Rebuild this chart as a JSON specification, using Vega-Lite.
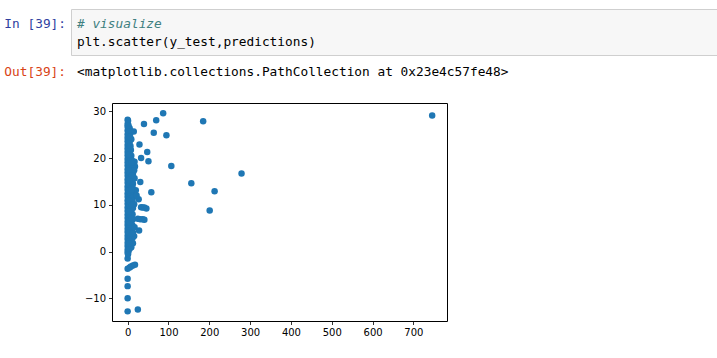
{
  "$schema": "https://vega.github.io/schema/vega-lite/v6.json",
  "padding": {"left": 0, "top": 8, "right": 0, "bottom": 0},
  "background": "white",
  "config": {"view": {"stroke": null}},
  "spacing": 0,
  "bounds": "full",
  "vconcat": [
    {
      "spacing": 0,
      "bounds": "flush",
      "hconcat": [
        {
          "width": 71,
          "height": 46,
          "data": {"values": [{"line": 1, "text": "In [39]:"}]},
          "mark": {"type": "text", "align": "right", "baseline": "middle", "dx": -5, "font": "DejaVu Sans Mono", "fontSize": 12.8, "color": "#303F9F"},
          "encoding": {
            "x": {"datum": 1, "type": "quantitative", "scale": {"domain": [0, 1]}, "axis": null},
            "y": {"field": "line", "type": "quantitative", "scale": {"domain": [0.189, 2.676], "reverse": true}, "axis": null},
            "text": {"field": "text"}
          }
        },
        {
          "width": 646,
          "height": 46,
          "view": {"fill": "#f7f7f7", "stroke": "#cfcfcf", "strokeWidth": 1},
          "data": {"values": [
            {"line": 1, "text": "# visualize", "kind": "comment"},
            {"line": 2, "text": "plt.scatter(y_test,predictions)", "kind": "code"}
          ]},
          "layer": [
            {
              "transform": [{"filter": "datum.kind === 'comment'"}],
              "mark": {"type": "text", "align": "left", "baseline": "middle", "dx": 6, "font": "DejaVu Sans Mono", "fontSize": 12.8, "fontStyle": "italic", "color": "#408080"},
              "encoding": {
                "x": {"datum": 0, "type": "quantitative", "scale": {"domain": [0, 1]}, "axis": null},
                "y": {"field": "line", "type": "quantitative", "scale": {"domain": [0.189, 2.676], "reverse": true}, "axis": null},
                "text": {"field": "text"}
              }
            },
            {
              "transform": [{"filter": "datum.kind === 'code'"}],
              "mark": {"type": "text", "align": "left", "baseline": "middle", "dx": 6, "font": "DejaVu Sans Mono", "fontSize": 12.8, "color": "#000000"},
              "encoding": {
                "x": {"datum": 0, "type": "quantitative", "scale": {"domain": [0, 1]}, "axis": null},
                "y": {"field": "line", "type": "quantitative", "scale": {"domain": [0.189, 2.676], "reverse": true}, "axis": null},
                "text": {"field": "text"}
              }
            }
          ]
        }
      ]
    },
    {
      "spacing": 0,
      "bounds": "flush",
      "hconcat": [
        {
          "width": 71,
          "height": 46,
          "data": {"values": [{"line": 1, "text": "Out[39]:"}]},
          "mark": {"type": "text", "align": "right", "baseline": "middle", "dx": -5, "font": "DejaVu Sans Mono", "fontSize": 12.8, "color": "#D84315"},
          "encoding": {
            "x": {"datum": 1, "type": "quantitative", "scale": {"domain": [0, 1]}, "axis": null},
            "y": {"field": "line", "type": "quantitative", "scale": {"domain": [0.108, 2.595], "reverse": true}, "axis": null},
            "text": {"field": "text"}
          }
        },
        {
          "width": 646,
          "height": 46,
          "data": {"values": [{"line": 1, "text": "<matplotlib.collections.PathCollection at 0x23e4c57fe48>"}]},
          "mark": {"type": "text", "align": "left", "baseline": "middle", "dx": 6, "font": "DejaVu Sans Mono", "fontSize": 12.8, "color": "#000000"},
          "encoding": {
            "x": {"datum": 0, "type": "quantitative", "scale": {"domain": [0, 1]}, "axis": null},
            "y": {"field": "line", "type": "quantitative", "scale": {"domain": [0.108, 2.595], "reverse": true}, "axis": null},
            "text": {"field": "text"}
          }
        }
      ]
    },
    {
      "spacing": 0,
      "bounds": "flush",
      "hconcat": [
        {
          "width": 112,
          "height": 218,
          "data": {"values": [{"text": ""}]},
          "mark": {"type": "text"},
          "encoding": {"text": {"field": "text"}}
        },
        {
          "width": 335,
          "height": 218,
          "view": {"stroke": "#000000", "strokeWidth": 1},
          "data": {"values": [
            {"x": 87, "y": 29.6}, {"x": 185, "y": 27.9}, {"x": 70, "y": 28.1}, {"x": 40, "y": 27.3}, {"x": 64, "y": 25.4},
            {"x": 95, "y": 24.9}, {"x": 15, "y": 25.7}, {"x": 29, "y": 22.9}, {"x": 48, "y": 21.3}, {"x": 33, "y": 20.0},
            {"x": 51, "y": 19.3}, {"x": 107, "y": 18.3}, {"x": 279, "y": 16.7}, {"x": 156, "y": 14.6}, {"x": 213, "y": 12.9},
            {"x": 201, "y": 8.8}, {"x": 58, "y": 12.7}, {"x": 31, "y": 14.9}, {"x": 27, "y": 11.2}, {"x": 15, "y": 12.4},
            {"x": 33, "y": 9.5}, {"x": 37, "y": 9.4}, {"x": 41, "y": 9.4}, {"x": 46, "y": 9.2},
            {"x": 25, "y": 7.0}, {"x": 31, "y": 6.9}, {"x": 37, "y": 6.9}, {"x": 41, "y": 6.8},
            {"x": 28, "y": 4.5}, {"x": 13, "y": -3.0}, {"x": 8, "y": -3.2}, {"x": 25, "y": -12.4},
            {"x": 746, "y": 29.1}, {"x": 13, "y": 16.7},
            {"x": 0, "y": 28.2}, {"x": 0, "y": 27.3}, {"x": 0, "y": 26.7}, {"x": 0, "y": 25.9}, {"x": 0, "y": 25.1},
            {"x": 0, "y": 24.3}, {"x": 0, "y": 23.6}, {"x": 0, "y": 22.8}, {"x": 0, "y": 22.1}, {"x": 0, "y": 21.3},
            {"x": 0, "y": 20.6}, {"x": 0, "y": 19.8}, {"x": 0, "y": 19.1}, {"x": 0, "y": 18.4}, {"x": 0, "y": 17.6},
            {"x": 0, "y": 16.9}, {"x": 0, "y": 16.2}, {"x": 0, "y": 15.4}, {"x": 0, "y": 14.7}, {"x": 0, "y": 13.9},
            {"x": 0, "y": 13.2}, {"x": 0, "y": 12.4}, {"x": 0, "y": 11.7}, {"x": 0, "y": 10.9}, {"x": 0, "y": 10.2},
            {"x": 0, "y": 9.4}, {"x": 0, "y": 8.7}, {"x": 0, "y": 7.9}, {"x": 0, "y": 7.2}, {"x": 0, "y": 6.4},
            {"x": 0, "y": 5.7}, {"x": 0, "y": 4.9}, {"x": 0, "y": 4.2}, {"x": 0, "y": 3.4}, {"x": 0, "y": 2.7},
            {"x": 0, "y": 1.9}, {"x": 0, "y": 1.2}, {"x": 0, "y": 0.4}, {"x": 0, "y": -0.2}, {"x": 0, "y": -1.5},
            {"x": 0, "y": -3.7}, {"x": 0, "y": -5.8}, {"x": 0, "y": -7.4}, {"x": 0, "y": -10.0}, {"x": 0, "y": -12.8},
            {"x": 2, "y": 27.0}, {"x": 2, "y": 26.2}, {"x": 2, "y": 24.7}, {"x": 2, "y": 23.9}, {"x": 2, "y": 22.4},
            {"x": 2, "y": 21.0}, {"x": 2, "y": 20.3}, {"x": 2, "y": 19.5}, {"x": 2, "y": 18.8}, {"x": 2, "y": 18.0},
            {"x": 2, "y": 17.2}, {"x": 2, "y": 16.5}, {"x": 2, "y": 15.8}, {"x": 2, "y": 15.0}, {"x": 2, "y": 14.3},
            {"x": 2, "y": 13.5}, {"x": 2, "y": 12.8}, {"x": 2, "y": 12.0}, {"x": 2, "y": 11.3}, {"x": 2, "y": 10.5},
            {"x": 2, "y": 9.8}, {"x": 2, "y": 9.0}, {"x": 2, "y": 8.3}, {"x": 2, "y": 7.5}, {"x": 2, "y": 6.8},
            {"x": 2, "y": 6.0}, {"x": 2, "y": 5.3}, {"x": 2, "y": 4.5}, {"x": 2, "y": 3.8}, {"x": 2, "y": 3.0},
            {"x": 2, "y": 2.3}, {"x": 2, "y": 1.5}, {"x": 2, "y": 0.8}, {"x": 2, "y": 0.0},
            {"x": 5, "y": 26.4}, {"x": 5, "y": 25.3}, {"x": 5, "y": 23.5}, {"x": 5, "y": 22.0}, {"x": 5, "y": 20.9},
            {"x": 5, "y": 20.0}, {"x": 5, "y": 19.3}, {"x": 5, "y": 18.6}, {"x": 5, "y": 17.9}, {"x": 5, "y": 17.0},
            {"x": 5, "y": 16.3}, {"x": 5, "y": 15.6}, {"x": 5, "y": 14.8}, {"x": 5, "y": 14.1}, {"x": 5, "y": 13.3},
            {"x": 5, "y": 12.6}, {"x": 5, "y": 11.8}, {"x": 5, "y": 11.1}, {"x": 5, "y": 10.3}, {"x": 5, "y": 9.6},
            {"x": 5, "y": 8.8}, {"x": 5, "y": 8.1}, {"x": 5, "y": 7.3}, {"x": 5, "y": 6.6}, {"x": 5, "y": 5.8},
            {"x": 5, "y": 5.1}, {"x": 5, "y": 4.3}, {"x": 5, "y": 3.6}, {"x": 5, "y": 2.8}, {"x": 5, "y": 2.1},
            {"x": 5, "y": 1.3}, {"x": 5, "y": 0.6}, {"x": 5, "y": -3.4},
            {"x": 8, "y": 25.6}, {"x": 9, "y": 24.0}, {"x": 8, "y": 21.7}, {"x": 9, "y": 20.5}, {"x": 8, "y": 19.6},
            {"x": 9, "y": 18.8}, {"x": 8, "y": 18.1}, {"x": 9, "y": 17.3}, {"x": 8, "y": 16.6}, {"x": 9, "y": 15.9},
            {"x": 8, "y": 15.1}, {"x": 9, "y": 14.4}, {"x": 8, "y": 13.6}, {"x": 9, "y": 12.9}, {"x": 8, "y": 12.1},
            {"x": 9, "y": 11.4}, {"x": 8, "y": 10.6}, {"x": 9, "y": 9.9}, {"x": 8, "y": 9.1}, {"x": 9, "y": 8.4},
            {"x": 8, "y": 7.6}, {"x": 9, "y": 6.2}, {"x": 8, "y": 5.5}, {"x": 9, "y": 4.7}, {"x": 8, "y": 3.2},
            {"x": 9, "y": 2.5}, {"x": 8, "y": 1.7}, {"x": 9, "y": 0.9},
            {"x": 12, "y": 19.4}, {"x": 13, "y": 18.5}, {"x": 12, "y": 17.7}, {"x": 13, "y": 16.0}, {"x": 12, "y": 15.3},
            {"x": 13, "y": 14.5}, {"x": 12, "y": 13.7}, {"x": 13, "y": 11.6}, {"x": 12, "y": 10.8}, {"x": 13, "y": 9.3},
            {"x": 12, "y": 8.0}, {"x": 13, "y": 6.9}, {"x": 12, "y": 5.6}, {"x": 13, "y": 4.1}, {"x": 12, "y": 2.9},
            {"x": 13, "y": 1.8},
            {"x": 17, "y": 19.2}, {"x": 18, "y": 18.2}, {"x": 16, "y": 17.4}, {"x": 17, "y": 15.7}, {"x": 20, "y": 13.1},
            {"x": 22, "y": 12.0}, {"x": 16, "y": 10.1}, {"x": 17, "y": 5.2}, {"x": 16, "y": 3.3}, {"x": 18, "y": -2.8},
            {"x": 1, "y": 28.0}, {"x": 1, "y": 26.9}, {"x": 3, "y": 25.6}, {"x": 1, "y": 24.6}, {"x": 3, "y": 23.2},
            {"x": 1, "y": 21.8}, {"x": 3, "y": 20.7}, {"x": 4, "y": 19.0}, {"x": 3, "y": 17.4}, {"x": 4, "y": 15.3},
            {"x": 3, "y": 13.0}, {"x": 4, "y": 10.8}, {"x": 3, "y": 8.5}, {"x": 4, "y": 6.3}, {"x": 3, "y": 4.0},
            {"x": 4, "y": 1.7}, {"x": 1, "y": -0.6}, {"x": 10, "y": 19.0}, {"x": 11, "y": 16.3}, {"x": 10, "y": 13.2},
            {"x": 11, "y": 10.0}, {"x": 10, "y": 7.0}, {"x": 11, "y": 3.8}, {"x": 7, "y": 22.6}, {"x": 6, "y": 24.5}
          ]},
          "mark": {"type": "circle", "size": 42, "color": "#1f77b4", "opacity": 1},
          "encoding": {
            "x": {
              "field": "x", "type": "quantitative",
              "scale": {"domain": [-38.3, 782.3], "nice": false, "zero": false},
              "axis": {"values": [0, 100, 200, 300, 400, 500, 600, 700], "title": null, "domain": false, "grid": false, "tickSize": 3.5, "tickColor": "#000000", "tickWidth": 0.8, "labelFont": "DejaVu Sans", "labelFontSize": 10, "labelColor": "#000000", "labelPadding": 3, "labelFlush": false, "labelOverlap": false}
            },
            "y": {
              "field": "y", "type": "quantitative",
              "scale": {"domain": [-14.86, 31.78], "nice": false, "zero": false},
              "axis": {"values": [-10, 0, 10, 20, 30], "title": null, "domain": false, "grid": false, "tickSize": 3.5, "tickColor": "#000000", "tickWidth": 0.8, "labelFont": "DejaVu Sans", "labelFontSize": 10, "labelColor": "#000000", "labelPadding": 3, "labelFlush": false, "labelOverlap": false}
            }
          }
        }
      ]
    }
  ]
}
